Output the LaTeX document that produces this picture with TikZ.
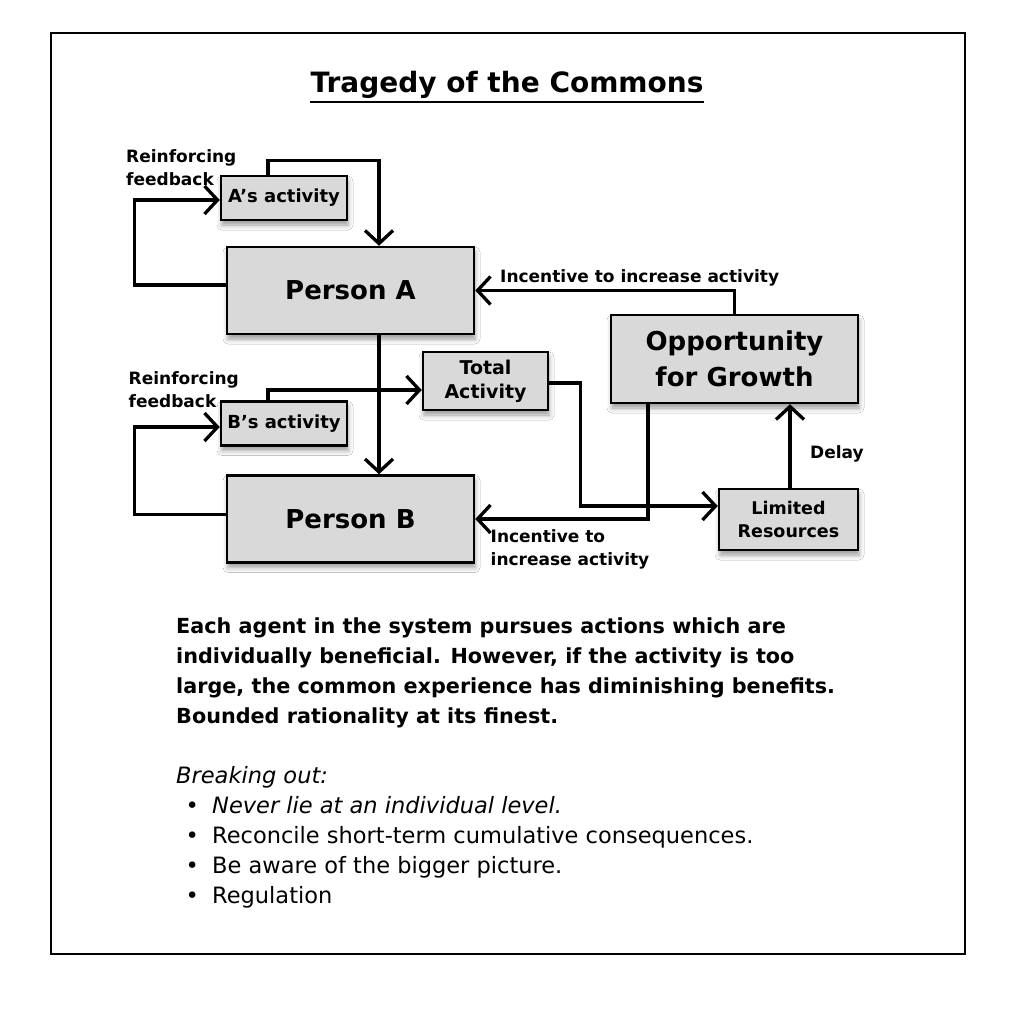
\documentclass[tikz,border=0pt]{standalone}
\usepackage{fontspec}
\setmainfont{DejaVu Sans}
\usetikzlibrary{arrows.meta,backgrounds,positioning,shadows.blur}
\definecolor{boxgray}{HTML}{D9D9D9}
\definecolor{ink}{HTML}{000000}
\newcommand{\fsz}[2]{\fontsize{#1pt}{#2pt}\selectfont}

\begin{document}
\begin{tikzpicture}[
  x=1pt,y=-1pt,
  >={Straight Barb[length=13pt,width=28pt]},
  block/.style={draw=ink,fill=boxgray,line width=2.5pt,inner sep=0pt,align=center,
    blur shadow={shadow xshift=1pt,shadow yshift=-5pt,shadow blur radius=5pt,shadow opacity=40}},
  personbox/.style={block,minimum width=247pt,minimum height=87pt,font=\bfseries\fsz{26}{36}},
  actbox/.style={block,minimum width=126pt,minimum height=44pt,font=\bfseries\fsz{18}{23}},
  flow/.style={draw=ink,line width=3.3pt,->},
  note/.style={font=\bfseries\fsz{17}{23},align=left,inner sep=0pt,anchor=base west}
]
  \useasboundingbox (0,0) rectangle (1016,1014);
  \draw[ink,line width=2pt] (51,33) rectangle (965,954);

  \node[font=\bfseries\fsz{28}{34},inner sep=0pt,anchor=base] (title) at (507,93) {Tragedy of the Commons};
  \draw[ink,line width=2pt] ([yshift=-8.7pt]title.base west) -- ([yshift=-8.7pt]title.base east);

  \node[personbox] (personA) at (350.5,290.5) {Person A};
  \node[personbox,below=139pt of personA] (personB) {Person B};
  \node[actbox] (actA) at (284,198) {A’s activity};
  \node[actbox] (actB) at (284,423.5) {B’s activity};
  \node[block,minimum width=125pt,minimum height=58pt,font=\bfseries\fsz{19}{24}] (total) at (485.5,381) {Total\\Activity};
  \node[personbox,minimum height=88pt] (growth) at (734.5,359) {Opportunity\\for Growth};
  \node[block,minimum width=139pt,minimum height=61pt,font=\bfseries\fsz{17.5}{23.5}] (limits) at (788.5,519.5) {Limited\\Resources};

  % multi-line labels: base is the last line
  \node[note] (reinfA) at (126,185) {Reinforcing\\feedback};
  \node[note] (reinfB) at (128.5,407) {Reinforcing\\feedback};
  \node[note] (incA) at (500,282) {Incentive to increase activity};
  \node[note] (incB) at (490.5,565) {Incentive to\\increase activity};
  \node[note] (delay) at (810,458) {Delay};

  \begin{scope}[on background layer]
    \fill[white] (0,0) rectangle (1016,1014);
    \draw[flow] ([yshift=5.5pt]personA.west) -- ++(-91,0) |- ([yshift=-2pt]actA.west);
    \draw[flow] ([xshift=-16pt]actA.north) -- ++(0,-14) -| ([xshift=28.5pt]personA.north);
    \draw[flow] ([xshift=28.5pt]personA.south) -- ([xshift=28.5pt]personB.north);
    \draw[flow] ([yshift=4.5pt]personB.west) -- ++(-91,0) |- ([yshift=-3.5pt]actB.west);
    \draw[flow] ([xshift=-16pt]actB.north) |- ([yshift=-9pt]total.west);
    \draw[flow] (growth.north) |- (personA.east);
    \draw[flow] ([xshift=-86.5pt]growth.south) |- (personB.east);
    \draw[flow] ([yshift=-2pt]total.east) -- ++(31,0) |- ([yshift=13.5pt]limits.west);
    \draw[flow] ([xshift=1.5pt]limits.north) -- ([xshift=55.5pt]growth.south);
  \end{scope}

  \node[anchor=base west,align=left,inner sep=0pt,font=\bfseries\fsz{20.75}{30}] (summary) at (176,723)
    {Each agent in the system pursues actions which are\\
     individually beneficial. However, if the activity is too\\
     large, the common experience has diminishing benefits.\\
     Bounded rationality at its finest.};
  \node[anchor=base west,align=left,inner sep=0pt,font=\fsz{22.5}{30}] (breakout) at (176,903)
    {\textit{Breaking out:}\\
     \hspace*{9.4pt}\makebox[26.6pt][l]{\textbullet}\textit{Never lie at an individual level.}\\
     \hspace*{9.4pt}\makebox[26.6pt][l]{\textbullet}Reconcile short-term cumulative consequences.\\
     \hspace*{9.4pt}\makebox[26.6pt][l]{\textbullet}Be aware of the bigger picture.\\
     \hspace*{9.4pt}\makebox[26.6pt][l]{\textbullet}Regulation};
\end{tikzpicture}
\end{document}
